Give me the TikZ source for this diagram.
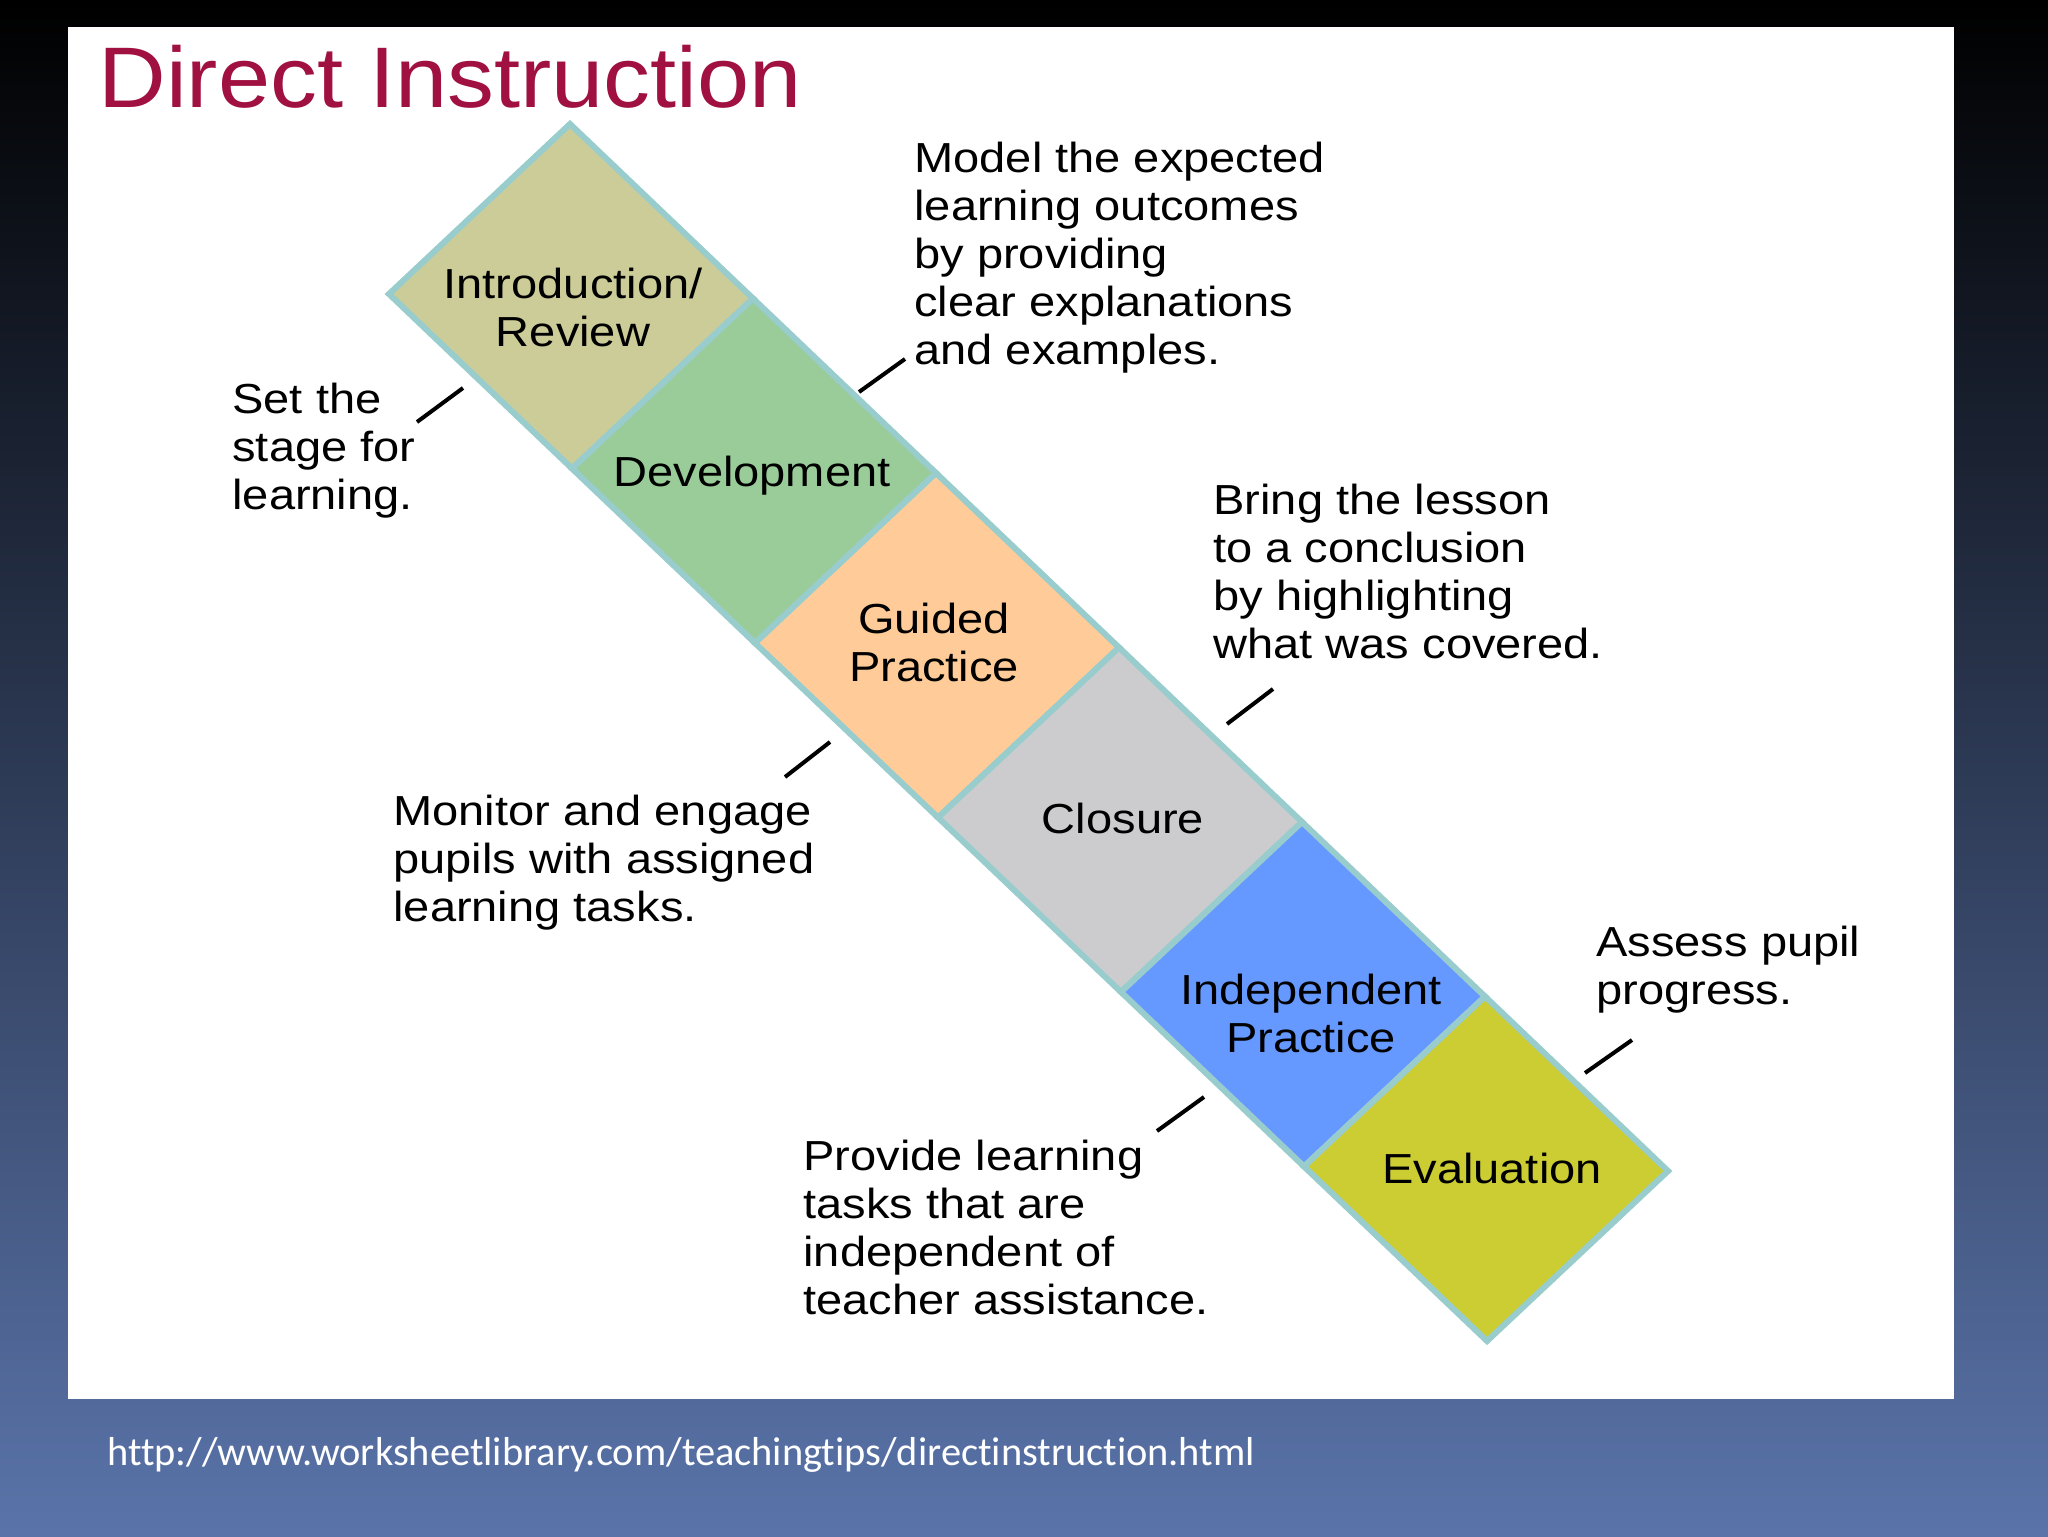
\documentclass[tikz,border=0pt]{standalone}
\usepackage{fontspec}
\setmainfont{Liberation Sans}
\newfontfamily\urlfont[Ligatures=NoCommon]{Carlito}
\definecolor{bgbot}{RGB}{90,116,170}
\definecolor{titlered}{RGB}{160,16,64}
\definecolor{edgeteal}{RGB}{153,204,204}
\definecolor{cIntro}{RGB}{204,204,153}
\definecolor{cDev}{RGB}{153,204,153}
\definecolor{cGuided}{RGB}{255,204,153}
\definecolor{cClos}{RGB}{204,204,206}
\definecolor{cIndep}{RGB}{102,153,255}
\definecolor{cEval}{RGB}{204,204,51}
\newcommand\wl[1]{\scalebox{1.12}[1]{#1}}
\begin{document}
\begin{tikzpicture}[x=0.5pt,y=-0.5pt,
  rhomb/.style={fill=#1, draw=edgeteal, line width=3pt, line join=miter},
  lbl/.style={font=\fontsize{21}{24}\selectfont, align=center, inner sep=0pt, text=black},
  note/.style={font=\fontsize{21}{24}\selectfont, align=left, inner sep=0pt, anchor=north west, text=black},
  tick/.style={draw=black, line width=2pt}]
\useasboundingbox (0,0) rectangle (2048,1536);
% slide background
\shade[top color=black, bottom color=bgbot] (0,0) rectangle (2048,1536);
% white panel
\fill[white] (68,27) rectangle (1954,1399);
% title
\node[anchor=base west, inner sep=0pt, text=titlered, font=\fontsize{43}{50}\selectfont] (title) at (98,107) {\scalebox{1.09}[1]{Direct Instruction}};
% strip vertices
\coordinate (U0) at (570,124);
\coordinate (U1) at (753,298.5);
\coordinate (U2) at (936,473);
\coordinate (U3) at (1119,647.5);
\coordinate (U4) at (1302,822);
\coordinate (U5) at (1485,996.5);
\coordinate (U6) at (1668,1171);
\coordinate (D0) at (389,294);
\coordinate (D1) at (572,468.5);
\coordinate (D2) at (755,643);
\coordinate (D3) at (938,817.5);
\coordinate (D4) at (1121,992);
\coordinate (D5) at (1304,1166.5);
\coordinate (D6) at (1487,1341);
\path[rhomb=cIntro]  (U0)--(U1)--(D1)--(D0)--cycle;
\path[rhomb=cDev]    (U1)--(U2)--(D2)--(D1)--cycle;
\path[rhomb=cGuided] (U2)--(U3)--(D3)--(D2)--cycle;
\path[rhomb=cClos]   (U3)--(U4)--(D4)--(D3)--cycle;
\path[rhomb=cIndep]  (U4)--(U5)--(D5)--(D4)--cycle;
\path[rhomb=cEval]   (U5)--(U6)--(D6)--(D5)--cycle;
% stage labels
\node[lbl] (intro) at (573,307) {\wl{Introduction/}\\\wl{Review}};
\node[lbl] (dev) at (752,476) {\wl{Development}};
\node[lbl] (guided) at (934,642) {\wl{Guided}\\\wl{Practice}};
\node[lbl] (closure) at (1123,818) {\wl{Closure}};
\node[lbl] (indep) at (1311,1013) {\wl{Independent}\\\wl{Practice}};
\node[lbl] (eval) at (1492,1168) {\wl{Evaluation}};
% annotations
\node[note] (n1) at (232,383) {\wl{Set the}\\\wl{stage for}\\\wl{learning.}};
\node[note] (n2) at (914,142) {\wl{Model the expected}\\\wl{learning outcomes}\\\wl{by providing}\\\wl{clear explanations}\\\wl{and examples.}};
\node[note] (n3) at (1213,484) {\wl{Bring the lesson}\\\wl{to a conclusion}\\\wl{by highlighting}\\\wl{what was covered.}};
\node[note] (n4) at (393,795) {\wl{Monitor and engage}\\\wl{pupils with assigned}\\\wl{learning tasks.}};
\node[note] (n5) at (1596,926) {\wl{Assess pupil}\\\wl{progress.}};
\node[note] (n6) at (803,1140) {\wl{Provide learning}\\\wl{tasks that are}\\\wl{independent of}\\\wl{teacher assistance.}};
% ticks
\coordinate (t1a) at (417,422); \coordinate (t1b) at (463,388);
\coordinate (t2a) at (859,392); \coordinate (t2b) at (905,359);
\coordinate (t3a) at (785,777); \coordinate (t3b) at (830,742);
\coordinate (t4a) at (1227,724); \coordinate (t4b) at (1273,689);
\coordinate (t5a) at (1157,1131); \coordinate (t5b) at (1204,1097);
\coordinate (t6a) at (1585,1073); \coordinate (t6b) at (1632,1040);
\draw[tick] (t1a) -- (t1b);
\draw[tick] (t2a) -- (t2b);
\draw[tick] (t3a) -- (t3b);
\draw[tick] (t4a) -- (t4b);
\draw[tick] (t5a) -- (t5b);
\draw[tick] (t6a) -- (t6b);
% source URL
\node[anchor=base west, inner sep=0pt, text=white, font=\urlfont\fontsize{20.2}{24}\selectfont] (url) at (107,1465) {http://www.worksheetlibrary.com/teachingtips/directinstruction.html};
\end{tikzpicture}
\end{document}
